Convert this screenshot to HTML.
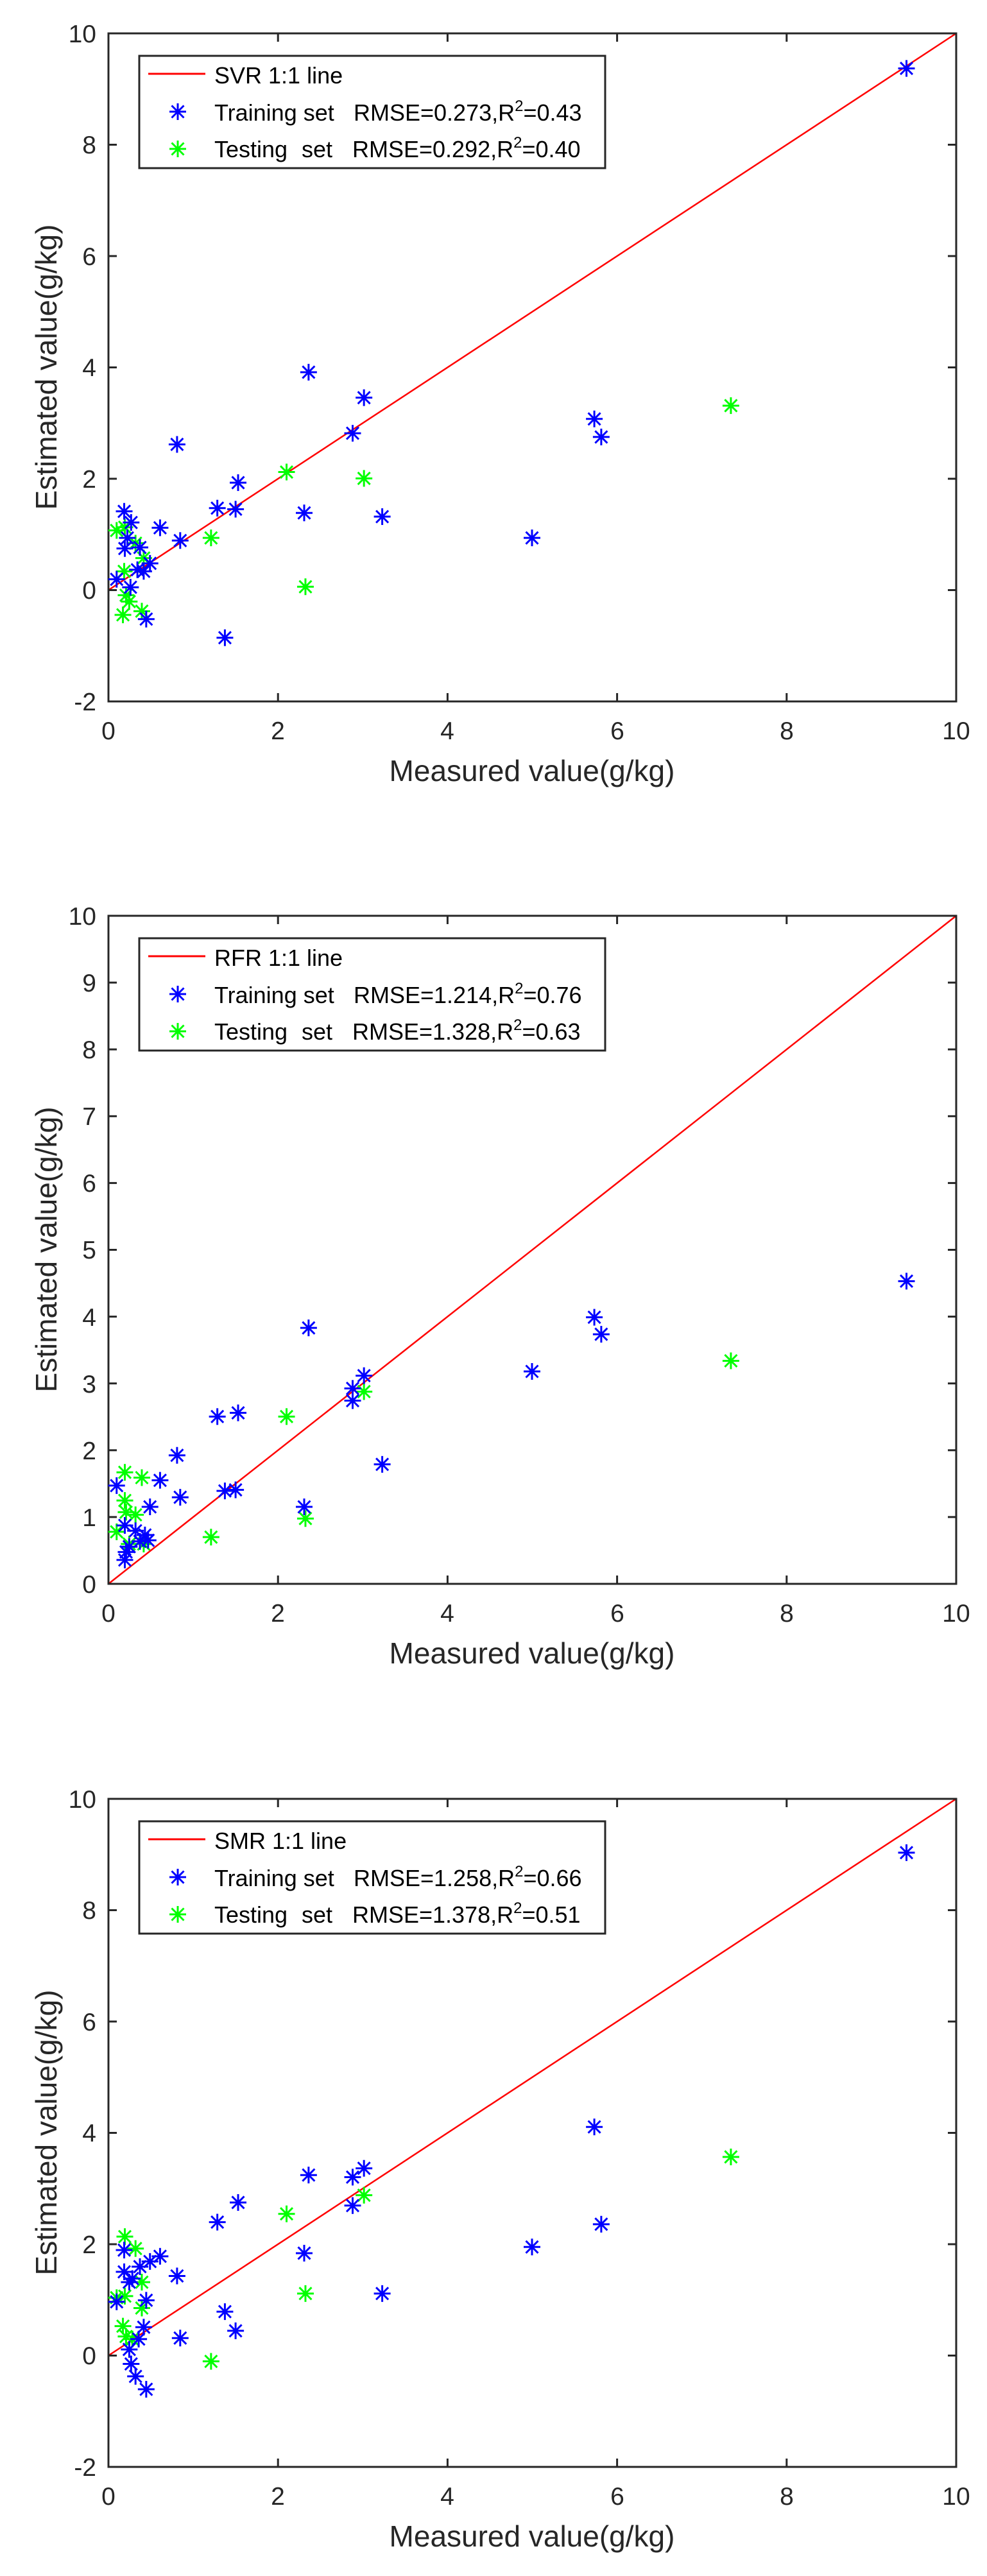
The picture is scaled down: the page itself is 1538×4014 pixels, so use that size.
<!DOCTYPE html>
<html><head><meta charset="utf-8"><style>
html,body{margin:0;padding:0;background:#fff;}
svg{display:block;}
text{font-family:"Liberation Sans",Arial,sans-serif;fill:#262626;}
.tk{font-size:39px;}
.ax{font-size:46px;}
.lg{font-size:36px;fill:#000;}
.sp{font-size:24px;}
</style></head><body>
<svg id="s" width="1538" height="4014" viewBox="0 0 1538 4014" xmlns="http://www.w3.org/2000/svg">
<rect width="1538" height="4014" fill="#fff"/>
<g id="shapes"></g>

<!-- Chart 1 text -->
<g class="tk" text-anchor="end">
<text x="150" y="66">10</text><text x="150" y="239">8</text><text x="150" y="413">6</text><text x="150" y="586">4</text><text x="150" y="760">2</text><text x="150" y="933">0</text><text x="150" y="1107">-2</text>
</g>
<g class="tk" text-anchor="middle">
<text x="169" y="1152">0</text><text x="433" y="1152">2</text><text x="697" y="1152">4</text><text x="962" y="1152">6</text><text x="1226" y="1152">8</text><text x="1490" y="1152">10</text>
</g>
<text class="ax" x="829" y="1217" text-anchor="middle">Measured value(g/kg)</text>
<text class="ax" transform="translate(88,572) rotate(-90)" text-anchor="middle">Estimated value(g/kg)</text>
<text class="lg" x="334" y="130">SVR 1:1 line</text>
<text class="lg" x="334" y="188">Training set</text><text class="lg" x="551" y="188">RMSE=0.273,R<tspan class="sp" dy="-15">2</tspan><tspan dy="15">=0.43</tspan></text>
<text class="lg" x="334" y="245">Testing</text><text class="lg" x="470" y="245">set</text><text class="lg" x="549" y="245">RMSE=0.292,R<tspan class="sp" dy="-15">2</tspan><tspan dy="15">=0.40</tspan></text>

<!-- Chart 2 text -->
<g class="tk" text-anchor="end">
<text x="150" y="1441">10</text><text x="150" y="1545">9</text><text x="150" y="1649">8</text><text x="150" y="1753">7</text><text x="150" y="1857">6</text><text x="150" y="1961">5</text><text x="150" y="2066">4</text><text x="150" y="2170">3</text><text x="150" y="2274">2</text><text x="150" y="2378">1</text><text x="150" y="2482">0</text>
</g>
<g class="tk" text-anchor="middle">
<text x="169" y="2527">0</text><text x="433" y="2527">2</text><text x="697" y="2527">4</text><text x="962" y="2527">6</text><text x="1226" y="2527">8</text><text x="1490" y="2527">10</text>
</g>
<text class="ax" x="829" y="2592" text-anchor="middle">Measured value(g/kg)</text>
<text class="ax" transform="translate(88,1947) rotate(-90)" text-anchor="middle">Estimated value(g/kg)</text>
<text class="lg" x="334" y="1505">RFR 1:1 line</text>
<text class="lg" x="334" y="1563">Training set</text><text class="lg" x="551" y="1563">RMSE=1.214,R<tspan class="sp" dy="-15">2</tspan><tspan dy="15">=0.76</tspan></text>
<text class="lg" x="334" y="1620">Testing</text><text class="lg" x="470" y="1620">set</text><text class="lg" x="549" y="1620">RMSE=1.328,R<tspan class="sp" dy="-15">2</tspan><tspan dy="15">=0.63</tspan></text>

<!-- Chart 3 text -->
<g class="tk" text-anchor="end">
<text x="150" y="2817">10</text><text x="150" y="2990">8</text><text x="150" y="3164">6</text><text x="150" y="3337">4</text><text x="150" y="3511">2</text><text x="150" y="3684">0</text><text x="150" y="3858">-2</text>
</g>
<g class="tk" text-anchor="middle">
<text x="169" y="3903">0</text><text x="433" y="3903">2</text><text x="697" y="3903">4</text><text x="962" y="3903">6</text><text x="1226" y="3903">8</text><text x="1490" y="3903">10</text>
</g>
<text class="ax" x="829" y="3968" text-anchor="middle">Measured value(g/kg)</text>
<text class="ax" transform="translate(88,3323) rotate(-90)" text-anchor="middle">Estimated value(g/kg)</text>
<text class="lg" x="334" y="2881">SMR 1:1 line</text>
<text class="lg" x="334" y="2939">Training set</text><text class="lg" x="551" y="2939">RMSE=1.258,R<tspan class="sp" dy="-15">2</tspan><tspan dy="15">=0.66</tspan></text>
<text class="lg" x="334" y="2996">Testing</text><text class="lg" x="470" y="2996">set</text><text class="lg" x="549" y="2996">RMSE=1.378,R<tspan class="sp" dy="-15">2</tspan><tspan dy="15">=0.51</tspan></text>
</svg>
<script>
(function(){
var NS="http://www.w3.org/2000/svg",g=document.getElementById("shapes");
function el(n,a){var e=document.createElementNS(NS,n);for(var k in a)e.setAttribute(k,a[k]);g.appendChild(e);return e;}
function line(x1,y1,x2,y2,c,w){el("line",{x1:x1,y1:y1,x2:x2,y2:y2,stroke:c,"stroke-width":w});}
function star(x,y,c){var r=13,d=9.5;
 line(x-r,y,x+r,y,c,3);line(x,y-r,x,y+r,c,3);
 line(x-d,y-d,x+d,y+d,c,3);line(x-d,y+d,x+d,y-d,c,3);}
var L=169,R=1490,H=1041,K="#262626";
var charts=[
 {T:52,ymin:-2,ymax:10,step:2,td:62,bd:1320,
  b:[[1440,128],[490,700],[578,748],[560,815],[944,788],[955,822],[281,836],[378,908],[345,956],[374,958],[483,965],[607,972],[845,1012],[197,962],[208,983],[254,993],[286,1017],[198,1032],[202,1012],[218,1072],[228,1075],[238,1060],[222,1030],[185,1090],[207,1105],[232,1165],[357,1200]],
  g:[[1161,763],[455,888],[578,900],[335,1012],[485,1104],[185,998],[198,992],[215,1022],[228,1050],[197,1075],[200,1120],[205,1132],[195,1157],[225,1150]]},
 {T:1427,ymin:0,ymax:10,step:1,td:62,bd:1320,
  b:[[1440,750],[944,818],[955,850],[490,838],[845,920],[578,928],[560,952],[560,975],[345,1005],[378,998],[281,1078],[607,1095],[254,1125],[185,1135],[286,1157],[357,1145],[374,1143],[483,1175],[238,1175],[198,1210],[215,1220],[230,1228],[235,1238],[205,1250],[198,1275],[200,1260],[222,1240]],
  g:[[1161,900],[455,1005],[578,958],[335,1232],[485,1197],[198,1110],[225,1120],[198,1163],[200,1185],[215,1190],[185,1222],[205,1245],[228,1245]]},
 {T:2803,ymin:-2,ymax:10,step:2,td:66,bd:1357,
  b:[[1440,170],[944,700],[955,888],[490,793],[578,780],[560,797],[560,852],[378,846],[345,884],[281,988],[845,932],[483,944],[607,1022],[357,1057],[374,1094],[286,1108],[254,950],[238,960],[197,938],[197,980],[222,970],[205,1000],[210,993],[185,1038],[232,1035],[228,1087],[220,1110],[205,1130],[208,1158],[215,1182],[232,1207]],
  g:[[1161,758],[455,868],[578,832],[335,1153],[485,1022],[198,912],[215,935],[225,1000],[225,1050],[185,1030],[198,1027],[195,1085],[200,1105],[210,1110]]}
];
charts.forEach(function(c){
 var T=c.T,B=T+H,sy=H/(c.ymax-c.ymin),sx=(R-L)/10;
 function Y(v){return T+(c.ymax-v)*sy;}
 // red 1:1 line
 var v0=Math.max(0,c.ymin);
 line(L+v0*sx,Y(v0),R,Y(10),"#ff0000",2.5);
 // ticks
 for(var v=0;v<=10;v+=2){var x=L+v*sx;line(x,B,x,B-13,K,3);line(x,T,x,T+13,K,3);}
 for(var v=c.ymin;v<=c.ymax;v+=c.step){var y=Y(v);line(L,y,L+13,y,K,3);line(R,y,R-13,y,K,3);}
 // frame
 el("rect",{x:L,y:T,width:R-L,height:H,fill:"none",stroke:K,"stroke-width":3});
 // markers
 var ky=H/(c.bd-c.td);
 function P(p){return [L+(p[0]-172)*0.9807,T+(p[1]-c.td)*ky];}
 c.g.forEach(function(p){var q=P(p);star(q[0],q[1],"#00ff00");});
 c.b.forEach(function(p){var q=P(p);star(q[0],q[1],"#0000ff");});
 // legend
 el("rect",{x:217,y:T+35,width:726,height:175,fill:"#fff",stroke:K,"stroke-width":3});
 line(231,T+63,320,T+63,"#ff0000",3);
 star(277,T+122,"#0000ff");
 star(277,T+180,"#00ff00");
});
})();
</script>
</body></html>
